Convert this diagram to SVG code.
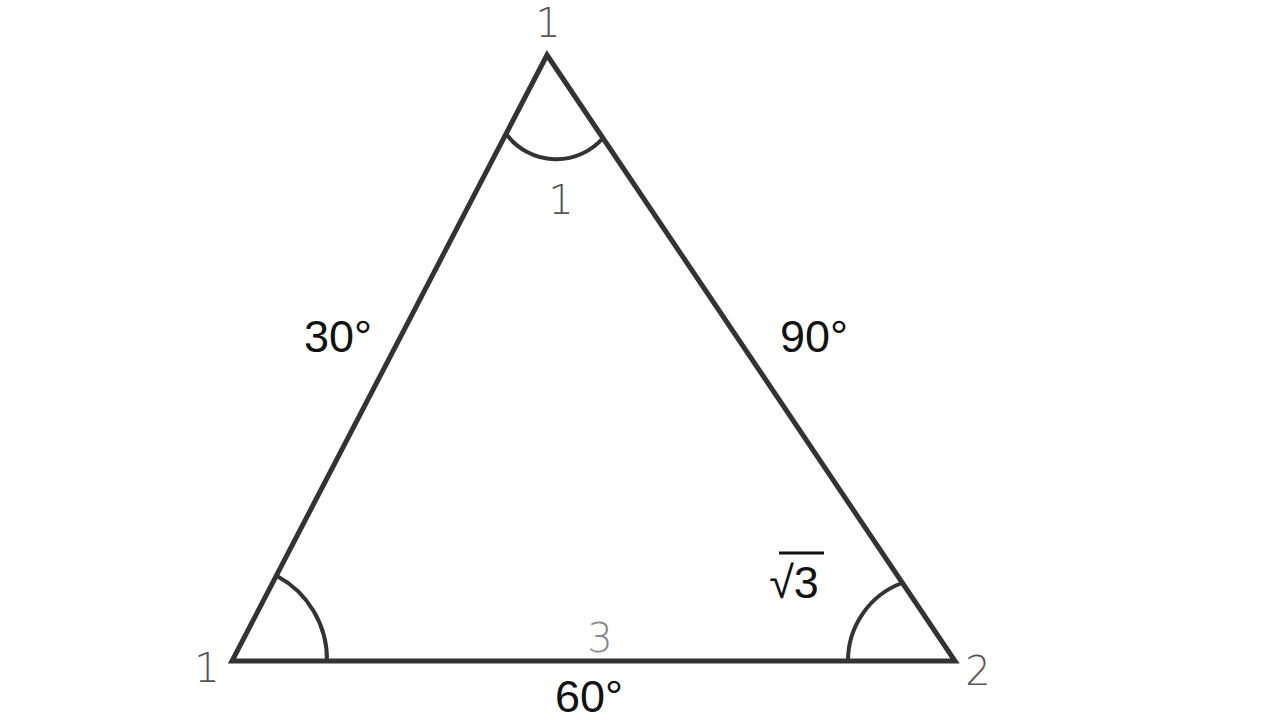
<svg xmlns="http://www.w3.org/2000/svg" width="1280" height="720" viewBox="0 0 1280 720">
<style>
.edge{fill:none;stroke:#333;stroke-width:5;stroke-linejoin:miter}
.arc{fill:none;stroke:#333;stroke-width:4}
.lbl{font-family:"Liberation Sans",Arial,sans-serif;font-size:45px;fill:#111;text-anchor:middle}
.v{font-family:"DejaVu Sans","Liberation Sans",sans-serif;font-weight:300;font-size:40px;fill:#555;text-anchor:middle}
</style>
<rect width="1280" height="720" fill="#fff"/>
<g id="triangle">
<path class="edge" d="M547,55 L232,661 L955,661 Z"/>
</g>
<g id="arcs">
<path class="arc" d="M507,135 A62,62 0 0 0 603,138"/>
<path class="arc" d="M277,576 A95,95 0 0 1 327,661"/>
<path class="arc" d="M848,661 A83,83 0 0 1 902,583"/>
</g>
<g id="labels">
<text class="v" x="548" y="37">1</text>
<text class="v" x="561" y="214">1</text>
<text class="v" x="207" y="682">1</text>
<text class="v" x="978" y="685">2</text>
<text class="v" x="600" y="652" style="fill:#888">3</text>
<text class="lbl" x="338" y="352">30°</text>
<text class="lbl" x="814" y="352">90°</text>
<text class="lbl" x="589" y="712">60°</text>
<text class="lbl" x="794" y="598">√3</text>
<line x1="779" y1="553" x2="824" y2="553" stroke="#111" stroke-width="3"/>
</g>
</svg>
